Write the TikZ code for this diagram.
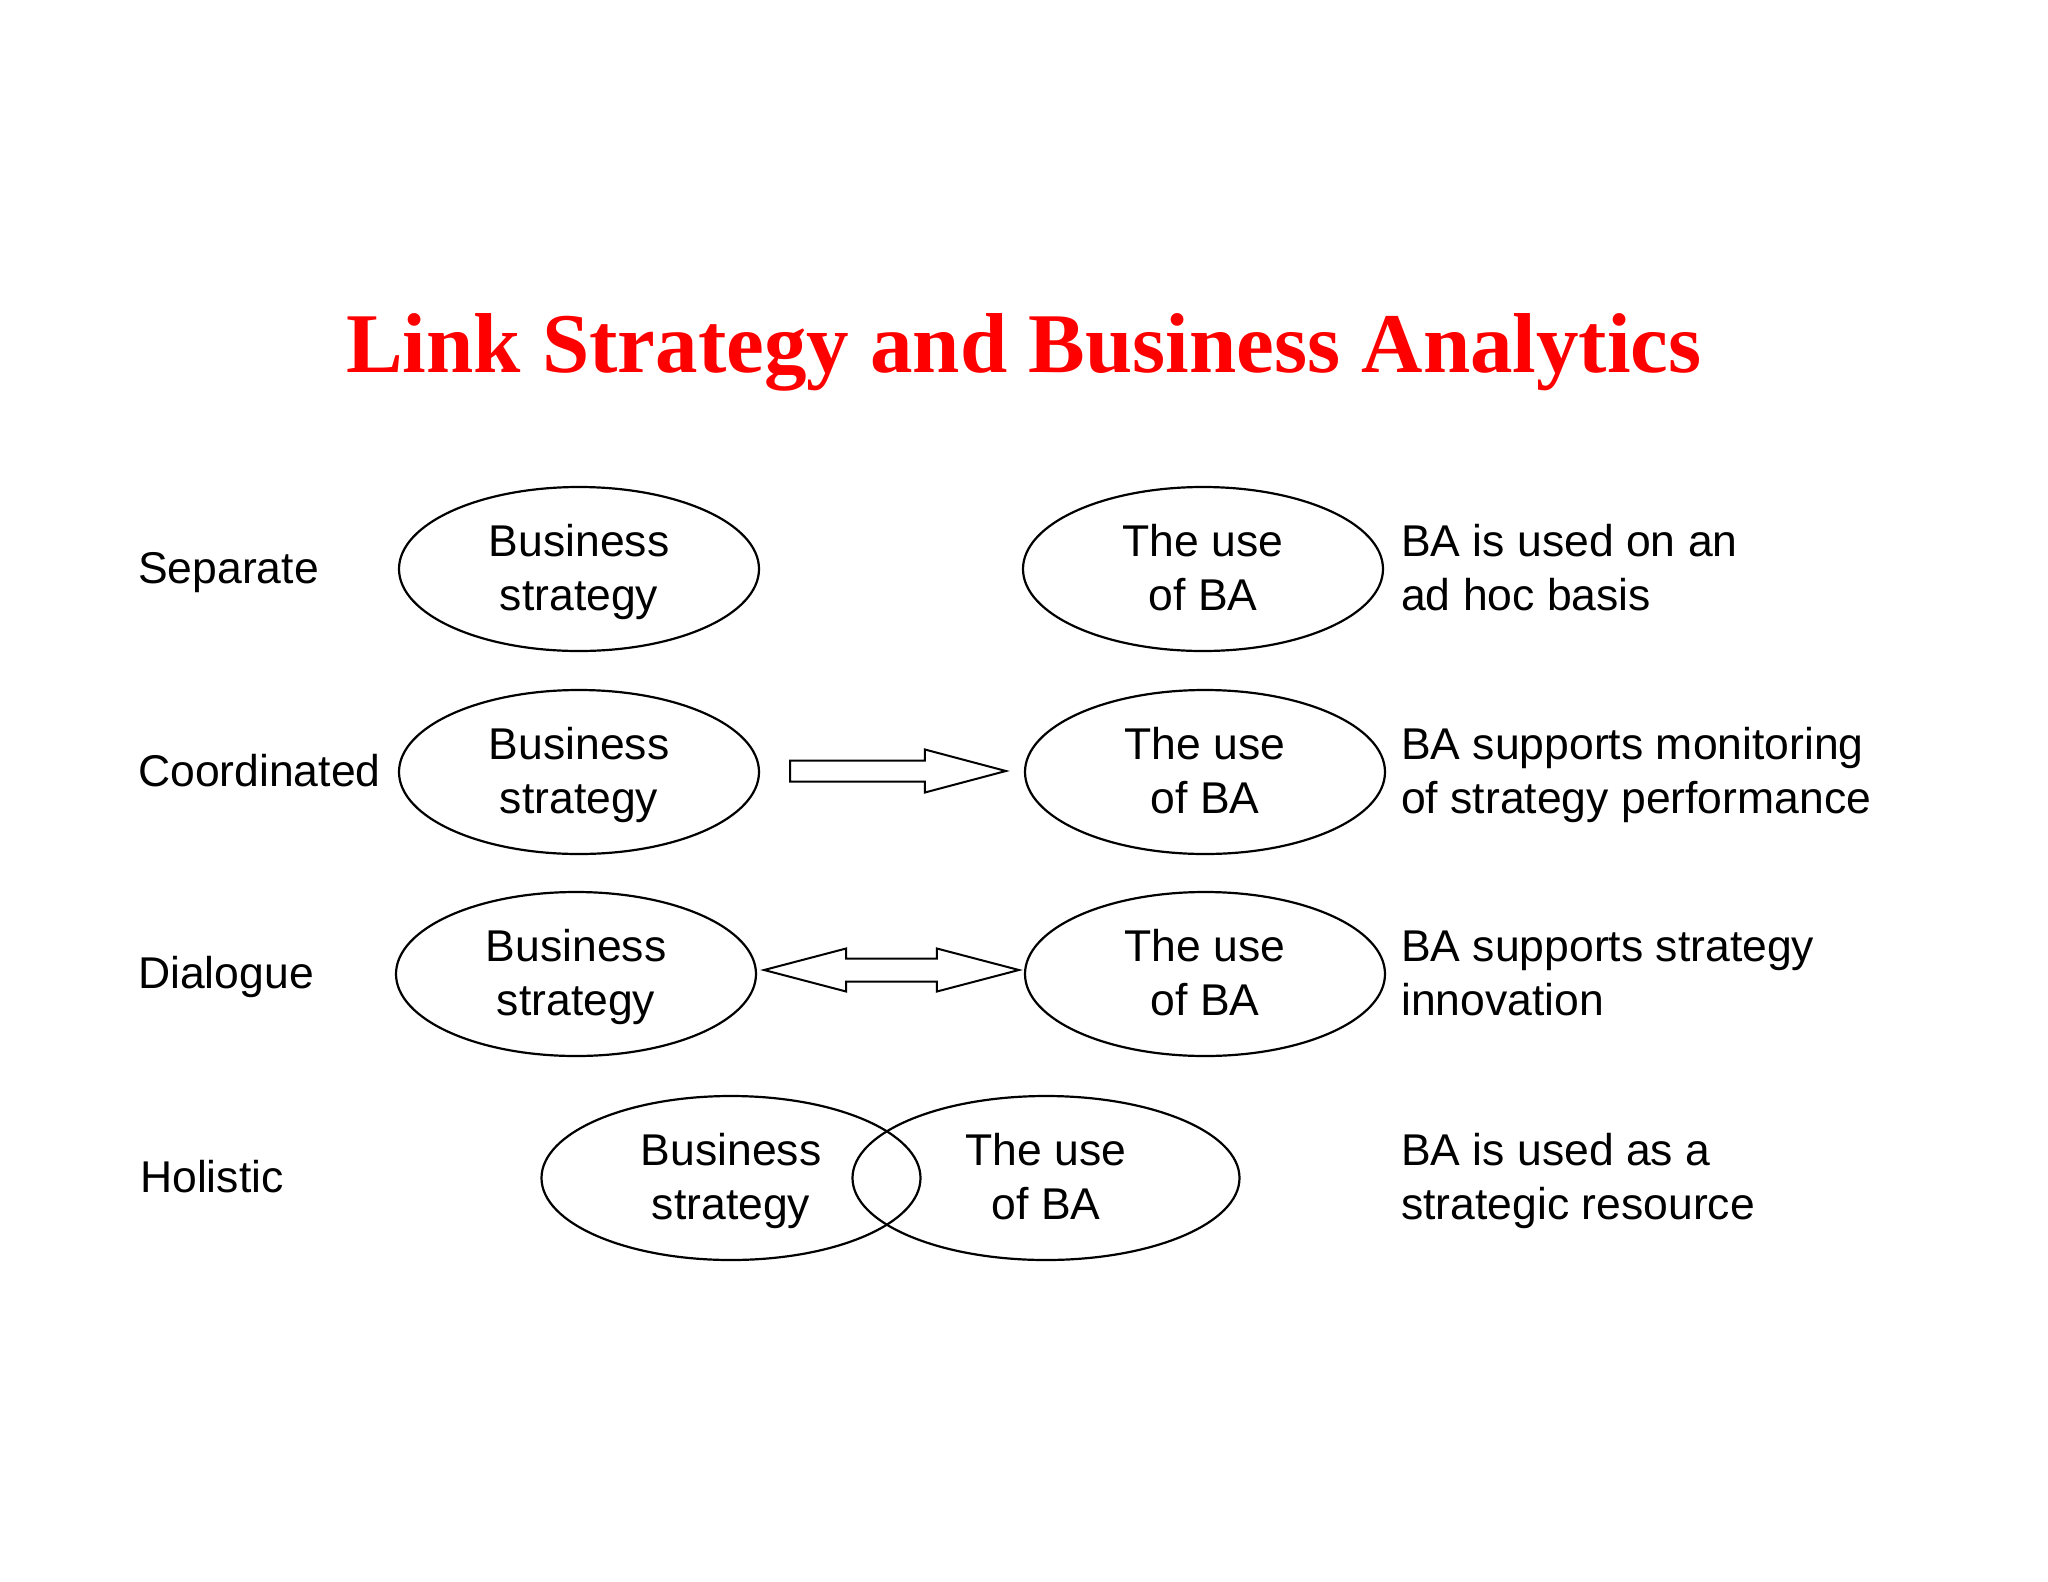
\documentclass[tikz,border=0pt]{standalone}
\usepackage{fontspec}
\setmainfont{Liberation Sans}
\newfontfamily\titlefont{Liberation Serif}
\usetikzlibrary{shapes.geometric,calc}
\newcommand{\mystrut}{\rule[-12pt]{0pt}{52pt}}
\begin{document}
\begin{tikzpicture}[x=1pt,y=-1pt,
  oval/.style={ellipse, draw, line width=2.2pt, minimum width=360pt, minimum height=164pt,
    inner sep=0pt, align=center, font=\fontsize{44.5}{54}\selectfont},
  rowlabel/.style={anchor=west, inner sep=0pt, font=\fontsize{44.5}{54}\selectfont},
  note/.style={anchor=west, inner sep=0pt, align=left, font=\fontsize{44.5}{54}\selectfont},
  fatarrow/.style={draw, line width=2pt, line join=miter, fill=white}]
\fill[white] (0,0) rectangle (2048,1582);
\useasboundingbox (0,0) rectangle (2048,1582);

\node[anchor=base, text=red, font=\titlefont\bfseries\fontsize{85}{100}\selectfont] (title) at (1024,372) {Link Strategy and Business Analytics};

% Row 1
\node[rowlabel] (l1) at (138,569) {\mystrut Separate};
\node[oval] (bs1) at (579,569) {\mystrut Business\\\mystrut strategy};
\node[oval] (ba1) at (1203,569) {\mystrut The use\\\mystrut of BA};
\node[note] (n1) at (1401,569) {\mystrut BA is used on an\\\mystrut ad hoc basis};

% Row 2
\node[rowlabel] (l2) at (138,772) {\mystrut Coordinated};
\node[oval] (bs2) at (579,772) {\mystrut Business\\\mystrut strategy};
\node[oval] (ba2) at (1205,772) {\mystrut The use\\\mystrut of BA};
\node[note] (n2) at (1401,772) {\mystrut BA supports monitoring\\\mystrut of strategy performance};

% Row 3
\node[rowlabel] (l3) at (138,974) {\mystrut Dialogue};
\node[oval] (bs3) at (576,974) {\mystrut Business\\\mystrut strategy};
\node[oval] (ba3) at (1205,974) {\mystrut The use\\\mystrut of BA};
\node[note] (n3) at (1401,974) {\mystrut BA supports strategy\\\mystrut innovation};

% Row 4
\node[rowlabel] (l4) at (140,1178) {\mystrut Holistic};
\node[oval, minimum width=379pt] (bs4) at (731,1178) {\mystrut Business\\\mystrut strategy};
\node[oval, minimum width=387pt] (ba4) at (1046,1178) {\mystrut The use\\\mystrut of BA};
\node[note] (n4) at (1401,1178) {\mystrut BA is used as a\\\mystrut strategic resource};

% Single arrow (row 2)
\coordinate (a2s) at ($(bs2.east)+(30,-1)$);
\coordinate (a2e) at ($(ba2.west)+(-18,-1)$);
\draw[fatarrow] ($(a2s)+(0,-10.5)$) -- ($(a2e)+(-81,-10.5)$) -- ($(a2e)+(-81,-21.5)$)
  -- (a2e) -- ($(a2e)+(-81,21.5)$) -- ($(a2e)+(-81,10.5)$) -- ($(a2s)+(0,10.5)$) -- cycle;

% Double arrow (row 3)
\coordinate (a3l) at ($(bs3.east)+(7,-4)$);
\coordinate (a3r) at ($(ba3.west)+(-5,-4)$);
\draw[fatarrow] (a3l) -- ($(a3l)+(82,-21.5)$) -- ($(a3l)+(82,-11.5)$) -- ($(a3r)+(-82,-11.5)$)
  -- ($(a3r)+(-82,-21.5)$) -- (a3r) -- ($(a3r)+(-82,21.5)$) -- ($(a3r)+(-82,11.5)$)
  -- ($(a3l)+(82,11.5)$) -- ($(a3l)+(82,21.5)$) -- cycle;
\end{tikzpicture}
\end{document}
